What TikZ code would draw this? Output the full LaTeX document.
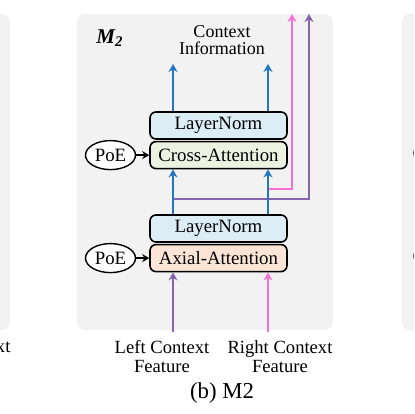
\documentclass[tikz,border=0pt]{standalone}
\usepackage{fontspec}
\setmainfont{Liberation Serif}
\usetikzlibrary{shapes.geometric, arrows, arrows.meta, positioning}
\definecolor{panelgray}{HTML}{F2F2F2}
\definecolor{normfill}{HTML}{DCEDF5}
\definecolor{crossfill}{HTML}{EDF1E1}
\definecolor{axialfill}{HTML}{FCE5D6}
\definecolor{flowblue}{HTML}{2277C0}
\definecolor{leftpurple}{HTML}{8566AC}
\definecolor{rightpink}{HTML}{F570D2}
\tikzstyle{norm} = [rectangle, rounded corners=3pt, minimum width=68.5pt, minimum height=13.5pt, text centered, draw=black, line width=0.8pt, fill=normfill, font=\fontsize{9.4}{10}\selectfont, inner sep=0pt]
\tikzstyle{attn} = [norm, fill=crossfill]
\tikzstyle{poe} = [ellipse, minimum width=25pt, minimum height=14.5pt, draw=black, line width=0.7pt, fill=white, font=\fontsize{9.4}{10}\selectfont, inner sep=0pt]
\tikzstyle{label} = [align=center, font=\fontsize{9.3}{9.5}\selectfont, inner sep=0pt]
\tikzstyle{arrow} = [-{Stealth[length=4pt, width=4.5pt]}, line width=1pt]
\tikzstyle{poearrow} = [-{Stealth[length=3.5pt, width=4pt]}, line width=0.8pt]

\begin{document}
\begin{tikzpicture}[x=0.5pt, y=-0.5pt]
\useasboundingbox (0,0) rectangle (414,414);
\clip (0,0) rectangle (414,414);
\fill[white] (0,0) rectangle (414,414);

% neighbouring panels, cut at the edges
\fill[panelgray, rounded corners=4pt] (-245,14) rectangle (10,330);
\fill[panelgray, rounded corners=4pt] (402,14) rectangle (660,330);
\node (nbtext) [label] at (-42,348) {Right Context};
\node (nbpoeA) [poe] at (439,153) {};
\node (nbpoeB) [poe] at (439,256) {};

% panel
\fill[panelgray, rounded corners=4pt] (77,14) rectangle (333,330);
\node (title) [font=\fontsize{10.5}{11}\selectfont\bfseries\itshape] at (110,38) {M\textsubscript{2}};

\node (normA) [norm] at (218.5,228.5) {LayerNorm};
\node (axial) [attn, fill=axialfill, below=0.5pt of normA] {Axial-Attention};
\node (normB) [norm] at (218.5,125.5) {LayerNorm};
\node (cross) [attn, below=0.5pt of normB] {Cross-Attention};
\node (poeA) [poe, left=6.5pt of axial] {PoE};
\node (poeB) [poe, left=6.5pt of cross] {PoE};

\node (ctx) [align=center, font=\fontsize{9}{8.5}\selectfont, inner sep=0pt] at (222,40) {Context\\Information};
\node (leftin) [label] at (162,357) {Left Context\\Feature};
\node (rightin) [label] at (280,357) {Right Context\\Feature};
\node (caption) [font=\fontsize{11.4}{12}\selectfont, inner sep=0pt] at (222,393) {(b) M2};

\coordinate (lx) at (173,0);
\coordinate (rx) at (268,0);
\coordinate (topL) at (173,64);
\coordinate (topR) at (268,64);
\coordinate (botL) at (173,332);
\coordinate (botR) at (268,332);
\coordinate (pkfrom) at (268,189);
\coordinate (pkto) at (292,14);
\coordinate (ppfrom) at (173,199);
\coordinate (ppto) at (309,14);

\draw [arrow, leftpurple] (ppfrom) -| (ppto);
\draw [arrow, rightpink] (pkfrom) -| (pkto);
\draw [arrow, leftpurple] (botL) -- (axial.south -| lx);
\draw [arrow, rightpink] (botR) -- (axial.south -| rx);
\draw [arrow, flowblue] (normA.north -| lx) -- (cross.south -| lx);
\draw [arrow, flowblue] (normA.north -| rx) -- (cross.south -| rx);
\draw [arrow, flowblue] (normB.north -| lx) -- (topL);
\draw [arrow, flowblue] (normB.north -| rx) -- (topR);

\draw [poearrow] (poeA) -- (axial);
\draw [poearrow] (poeB) -- (cross);

\end{tikzpicture}
\end{document}
